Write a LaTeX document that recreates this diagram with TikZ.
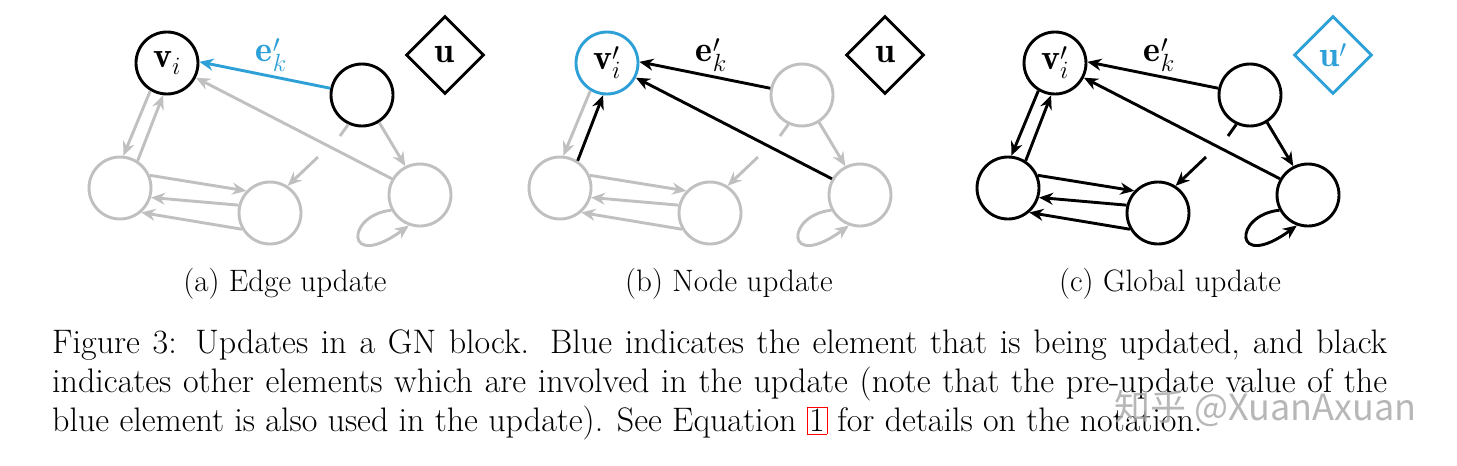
\documentclass[tikz,border=0pt]{standalone}
\usepackage{fontspec}
\usetikzlibrary{shapes.geometric,arrows.meta}
\newfontfamily\cjkf{Noto Sans CJK SC}
\definecolor{gnblue}{RGB}{45,160,215}
\definecolor{gngray}{RGB}{192,192,192}
\tikzset{
  gn/.style={circle,draw,line width=2.9pt,minimum size=62pt,inner sep=0pt,font=\fontsize{36}{38}\selectfont},
  gd/.style={diamond,draw,line width=2.9pt,minimum size=78pt,inner sep=0pt,font=\fontsize{36}{38}\selectfont},
  ge/.style={line width=2.9pt,-{Stealth[length=14pt,width=12pt]}},
  gs/.style={line width=2.9pt},
}
\newcommand\gpanel[4]{%
\begin{scope}[xshift=#1]
 \node[gn,draw=cvi] (vi#4) at (167,63) {#2};
 \node[gn,draw=ctr] (tr#4) at (362,95) {};
 \node[gd,draw=cu,text=cu] (u#4) at (445,55) {#3};
 \node[gn,draw=coth] (bl#4) at (120,188) {};
 \node[gn,draw=coth] (bm#4) at (270,213) {};
 \node[gn,draw=coth] (br#4) at (420,195) {};
 \draw[ge,draw=ce] (tr#4.168) -- node[above,pos=0.45,yshift=0pt,text=ce,font=\fontsize{36}{38}\selectfont] (ek#4) {$\mathbf{e}'_k$} (vi#4.2);
 \draw[ge,draw=clong] (br#4.150) -- (vi#4.333);
 \draw[ge,draw=coth] (vi#4.239) -- (bl#4.84);
 \draw[ge,draw=cup] (bl#4.57) -- (vi#4.263);
 \draw[ge,draw=coth] (bl#4.23) -- (bm#4.137);
 \draw[ge,draw=coth] (bm#4.166) -- (bl#4.343);
 \draw[ge,draw=coth] (bm#4.210) -- (bl#4.311);
 \draw[ge,draw=coth] (tr#4.302) -- (br#4.117);
 \coordinate (s1#4) at (340,136);
 \draw[gs,draw=coth] (tr#4.245) -- (s1#4);
 \coordinate (s2#4) at (318,157);
 \draw[ge,draw=coth] (s2#4) -- (bm#4.57);
 \draw[ge,draw=coth] (br#4.208) .. controls (345,215) and (345,272) .. (br#4.250);
\end{scope}}
\begin{document}
\begin{tikzpicture}[x=1pt,y=-1pt]
\useasboundingbox[fill=white] (0,0) rectangle (1457,466);
\colorlet{cvi}{black}\colorlet{ctr}{black}\colorlet{cu}{black}\colorlet{ce}{gnblue}
\colorlet{clong}{gngray}\colorlet{cup}{gngray}\colorlet{coth}{gngray}
\gpanel{0pt}{$\mathbf{v}_i$}{$\mathbf{u}$}{a}
\colorlet{cvi}{gnblue}\colorlet{ctr}{gngray}\colorlet{cu}{black}\colorlet{ce}{black}
\colorlet{clong}{black}\colorlet{cup}{black}\colorlet{coth}{gngray}
\gpanel{440pt}{$\mathbf{v}'_i$}{$\mathbf{u}$}{b}
\colorlet{cvi}{black}\colorlet{ctr}{black}\colorlet{cu}{gnblue}\colorlet{ce}{black}
\colorlet{clong}{black}\colorlet{cup}{black}\colorlet{coth}{black}
\gpanel{888pt}{$\mathbf{v}'_i$}{$\mathbf{u}'$}{c}
\node[font=\fontsize{31}{34}\selectfont] (ca) at (285,284) {(a) Edge update};
\node[font=\fontsize{31}{34}\selectfont] (cb) at (729,284) {(b) Node update};
\node[font=\fontsize{31}{34}\selectfont] (cc) at (1170,284) {(c) Global update};
\node[anchor=north west,text width=1335pt,align=justify,inner sep=0pt,font=\fontsize{34}{39}\selectfont] (cap) at (52,330)
 {Figure 3: Updates in a GN block. Blue indicates the element that is being updated, and black\linebreak indicates other elements which are involved in the update (note that the pre-update value of the\linebreak blue element is also used in the update). See Equation {\color{red}\fboxsep=2pt\fbox{\color{black}1}} for details on the notation.};
\node[text=gray!70,font=\cjkf\fontsize{36}{40}\selectfont,anchor=east,opacity=0.8] (wm) at (1420,408) {知乎 @XuanAxuan};
\end{tikzpicture}
\end{document}
